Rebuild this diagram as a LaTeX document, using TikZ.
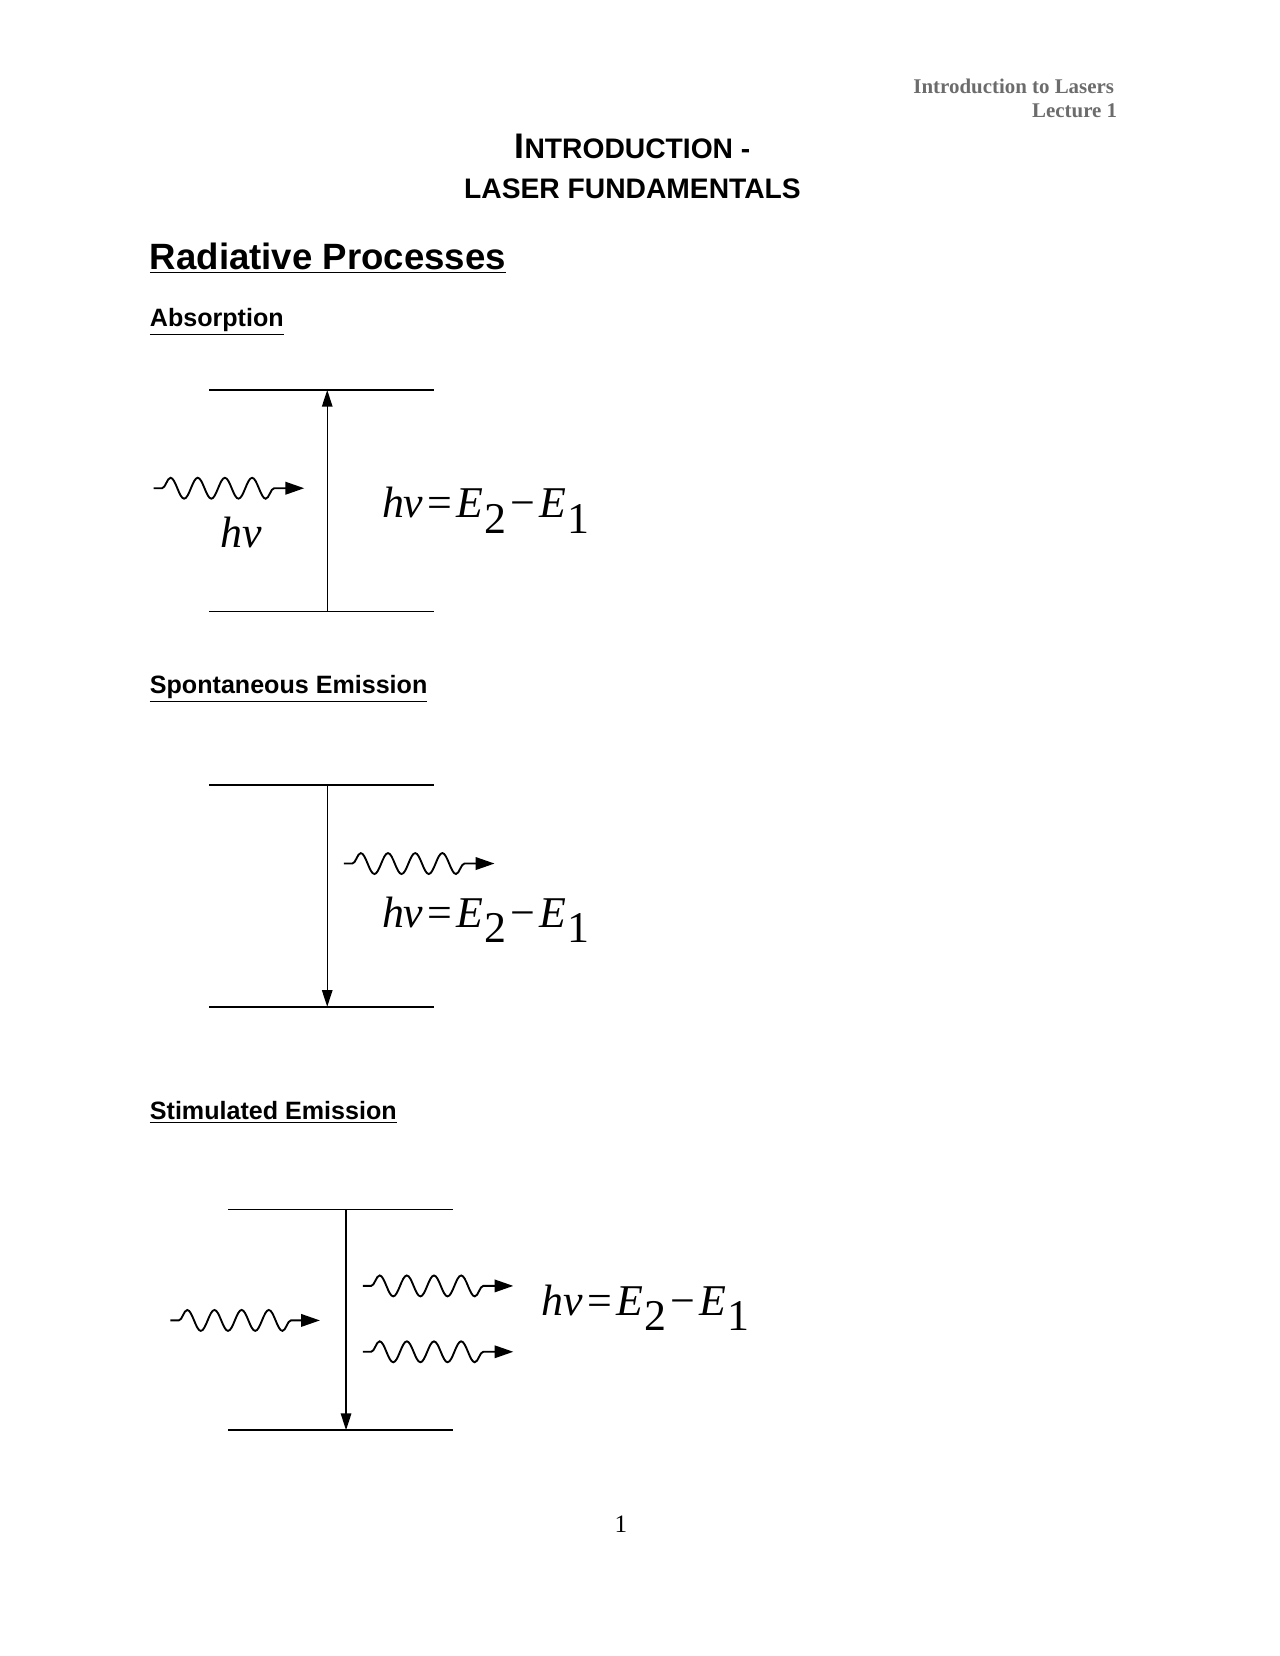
\documentclass[tikz,border=0pt]{standalone}
\usepackage{fontspec}
\setmainfont{Liberation Serif}
\newfontfamily\arial{Liberation Sans}
\usetikzlibrary{decorations.pathmorphing,arrows.meta}
\tikzset{
 lev/.style={line width=0.7pt},
 trans/.style={line width=0.7pt,-{Triangle[length=8pt,width=5pt]}},
 photon/.style={line width=0.9pt,-{Triangle[length=9pt,width=6pt]},decorate,decoration={snake,amplitude=5pt,segment length=13pt,pre length=4pt,post length=12pt}},
 eq/.style={font=\fontsize{21}{24}\selectfont,inner sep=0pt,anchor=west},
 sec/.style={font=\arial\bfseries\fontsize{12}{14}\selectfont,anchor=west,inner sep=0pt},
}
\newcommand{\hnueq}{\textit{hν}\kern2pt=\kern2pt\textit{E}\kern0.5pt\raisebox{-0.35em}{2}\kern2pt−\kern2pt\textit{E}\kern0.5pt\raisebox{-0.35em}{1}}
\begin{document}
\begin{tikzpicture}[x=0.5pt,y=-0.5pt]
\useasboundingbox (0,0) rectangle (1224,1584);
\fill[white] (0,0) rectangle (1224,1584);
% header
\node[anchor=east,text=gray!85!black,font=\bfseries\fontsize{10}{12}\selectfont,inner sep=0pt] (h1) at (1066,83) {Introduction to Lasers};
\node[anchor=east,text=gray!85!black,font=\bfseries\fontsize{10}{12}\selectfont,inner sep=0pt] (h2) at (1069,106) {Lecture 1};
\node[font=\arial\bfseries,inner sep=0pt] (t1) at (605,140) {{\fontsize{17}{20}\selectfont I}{\fontsize{13.5}{16}\selectfont NTRODUCTION -}};
\node[font=\arial\bfseries\fontsize{13.5}{16}\selectfont,inner sep=0pt] (t2) at (605,181) {LASER FUNDAMENTALS};
\node[font=\arial\bfseries\fontsize{17.5}{20}\selectfont,anchor=west,inner sep=0pt] (rp) at (143,247) {\underline{Radiative Processes}};
% Absorption
\node[sec] (s1) at (143,308) {\underline{Absorption}};
\coordinate (a2l) at (200,373); \coordinate (a2r) at (415,373);
\coordinate (a1l) at (200,585); \coordinate (a1r) at (415,585);
\draw[lev] (a2l) -- (a2r); \draw[lev] (a1l) -- (a1r);
\coordinate (a1) at (313,585); \coordinate (a2) at (313,373);
\draw[trans] (a1) -- (a2);
\coordinate (w1s) at (147,467); \coordinate (w1e) at (291,467);
\draw[photon] (w1s) -- (w1e);
\node[font=\fontsize{21}{24}\selectfont\itshape,inner sep=0pt] (hv) at (231,509) {hν};
\node[eq] (e1) at (365,488) {\hnueq};
% Spontaneous
\node[sec] (s2) at (143,659) {\underline{Spontaneous Emission}};
\coordinate (b2l) at (200,751); \coordinate (b2r) at (415,751);
\coordinate (b1l) at (200,963); \coordinate (b1r) at (415,963);
\draw[lev] (b2l) -- (b2r); \draw[lev] (b1l) -- (b1r);
\coordinate (b2) at (313,751); \coordinate (b1) at (313,963);
\draw[trans] (b2) -- (b1);
\coordinate (w2s) at (329,826); \coordinate (w2e) at (473,826);
\draw[photon] (w2s) -- (w2e);
\node[eq] (e2) at (365,880) {\hnueq};
% Stimulated
\node[sec] (s3) at (143,1064) {\underline{Stimulated Emission}};
\coordinate (c2l) at (218,1157); \coordinate (c2r) at (433,1157);
\coordinate (c1l) at (218,1368); \coordinate (c1r) at (433,1368);
\draw[lev] (c2l) -- (c2r); \draw[lev] (c1l) -- (c1r);
\coordinate (c2) at (331,1157); \coordinate (c1) at (331,1368);
\draw[trans] (c2) -- (c1);
\coordinate (w3s) at (163,1263); \coordinate (w3e) at (306,1263);
\draw[photon] (w3s) -- (w3e);
\coordinate (w4s) at (347,1230); \coordinate (w4e) at (491,1230);
\draw[photon] (w4s) -- (w4e);
\coordinate (w5s) at (347,1293); \coordinate (w5e) at (491,1293);
\draw[photon] (w5s) -- (w5e);
\node[eq] (e3) at (518,1251) {\hnueq};
\node[font=\fontsize{12}{14}\selectfont,inner sep=0pt] (pg) at (594,1458) {1};
\end{tikzpicture}
\end{document}
